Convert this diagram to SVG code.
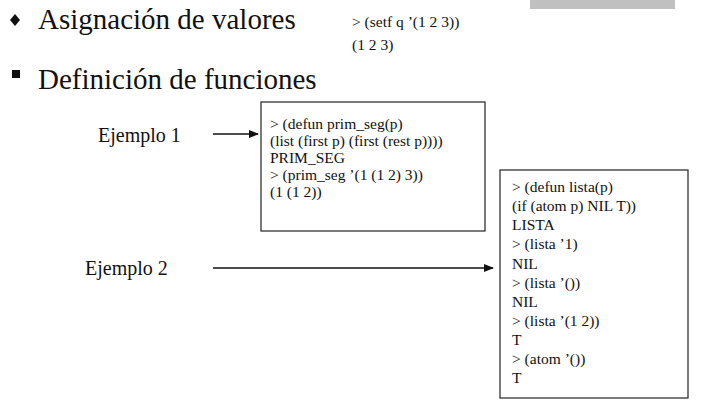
<svg xmlns="http://www.w3.org/2000/svg" width="702" height="414" viewBox="0 0 702 414">
<style>
.h{font-size:29px}.e{font-size:20px}.c{font-size:15.5px}
.b{fill:#fff;stroke:#222;stroke-width:1.2}
.l{stroke:#111;stroke-width:1.5;fill:none}
</style>
<defs><marker id="a" markerWidth="10" markerHeight="8" refX="9" refY="4" orient="auto" markerUnits="userSpaceOnUse"><path d="M0,0L10,4L0,8z" fill="#111"/></marker></defs>
<rect x="530" y="0" width="145" height="9" fill="#c0c0c0"/>
<g font-family="'Liberation Serif', 'Times New Roman', 'DejaVu Serif', serif" fill="#111">
<g id="title1"><path d="M15,14L20,20L15,26L10,20z" fill="#111"/><text class="h" x="38" y="29">Asignación de valores</text>
<text class="c" x="352" y="27">&gt; (setf q ’(1 2 3))</text><text class="c" x="352" y="50">(1 2 3)</text></g>
<g id="title2"><rect x="12" y="70" width="8" height="8" fill="#111"/><text class="h" x="38" y="89">Definición de funciones</text></g>
<g id="ej1"><text class="e" x="98" y="142">Ejemplo 1</text></g>
<g id="ej2"><text class="e" x="85" y="275">Ejemplo 2</text></g>
<g id="box1"><rect class="b" x="261" y="102" width="224" height="129"/>
<text class="c"><tspan x="270" y="129">&gt; (defun prim_seg(p)</tspan><tspan x="270" y="146">(list (first p) (first (rest p))))</tspan><tspan x="270" y="163">PRIM_SEG</tspan><tspan x="270" y="180">&gt; (prim_seg ’(1 (1 2) 3))</tspan><tspan x="270" y="197">(1 (1 2))</tspan></text></g>
<g id="box2"><rect class="b" x="500" y="170" width="188" height="228"/>
<text class="c"><tspan x="512" y="192">&gt; (defun lista(p)</tspan><tspan x="512" y="211">(if (atom p) NIL T))</tspan><tspan x="512" y="230">LISTA</tspan><tspan x="512" y="249">&gt; (lista ’1)</tspan><tspan x="512" y="269">NIL</tspan><tspan x="512" y="288">&gt; (lista ’())</tspan><tspan x="512" y="307">NIL</tspan><tspan x="512" y="326">&gt; (lista ’(1 2))</tspan><tspan x="512" y="345">T</tspan><tspan x="512" y="364">&gt; (atom ’())</tspan><tspan x="512" y="383">T</tspan></text></g>
</g>
<g id="connectors"><line class="l" x1="213" y1="134" x2="258" y2="134" marker-end="url(#a)"/><line class="l" x1="213" y1="268" x2="493" y2="268" marker-end="url(#a)"/></g>
</svg>
